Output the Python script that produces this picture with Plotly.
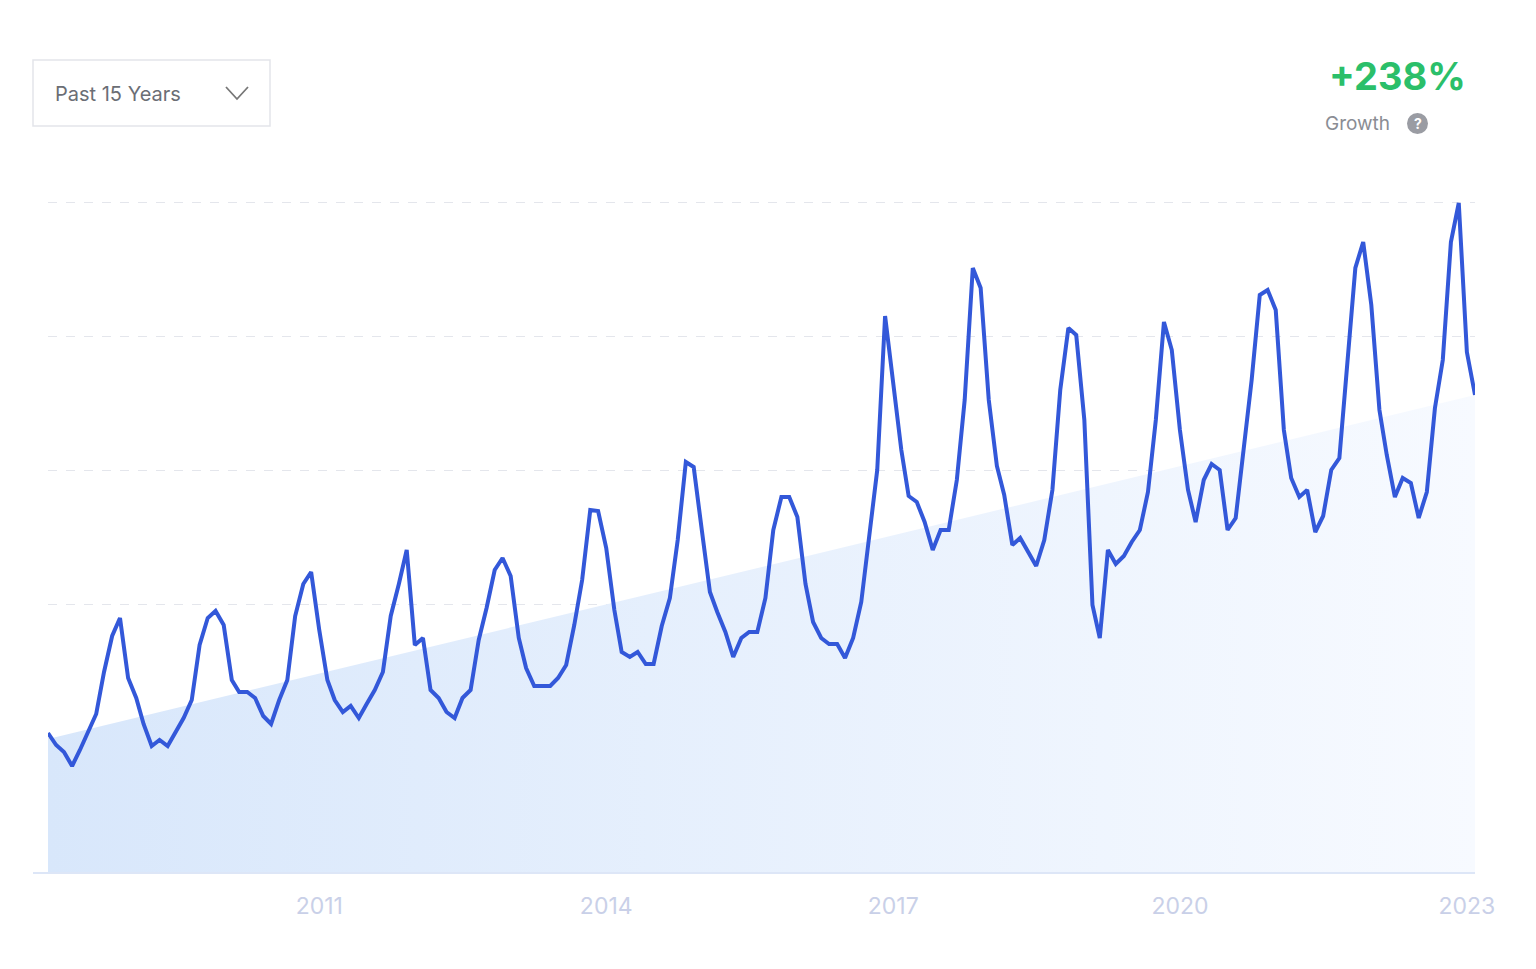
import plotly.graph_objects as go
import pandas as pd

start_month = "2008-03-01"
interest = [140,128,121,107,123,141,159,201,237,255,195,175,149,127,133,127,141,155,173,228,255,262,248,193,181,181,175,157,149,173,193,257,289,301,243,193,173,161,167,155,169,183,201,257,289,323,228,235,183,175,161,155,175,183,233,265,303,315,297,235,205,187,187,187,195,208,248,293,363,362,325,263,221,216,221,209,209,247,275,333,411,406,343,281,261,241,216,235,241,241,275,343,376,376,356,289,251,235,229,229,215,235,271,339,403,
557,493,423,377,371,351,323,343,343,393,473,605,585,473,407,378,328,335,321,307,333,383,483,545,538,453,268,235,323,309,317,331,343,381,453,551,523,443,383,351,393,409,403,343,355,423,493,578,583,563,443,395,376,383,341,357,403,415,513,605,631,568,463,418,376,395,390,355,381,465,513,631,670,521,478]
trend_start, trend_end = 134, 478
tick_years = ["2011", "2014", "2017", "2020", "2023"]
grid_vals = [134.2, 268.4, 402.6, 536.8, 671]

dates = pd.date_range(start_month, periods=len(interest), freq="MS")

fig = go.Figure()
fig.add_trace(go.Scatter(
    x=[dates[0], dates[-1]], y=[trend_start, trend_end], mode="lines",
    line=dict(width=0), fill="tozeroy",
    fillgradient=dict(type="horizontal",
                      colorscale=[[0, "rgba(216,231,251,1)"], [1, "rgba(247,250,255,1)"]]),
    hoverinfo="skip", showlegend=False))
fig.add_trace(go.Scatter(x=dates, y=interest, mode="lines",
                         line=dict(color="#3358d9", width=4), showlegend=False))

W, H = 1427, 683
def px(x): return (x - 48) / W
def py(y): return (873 - y) / H

fig.update_layout(
    width=1536, height=969, paper_bgcolor="white", plot_bgcolor="white",
    margin=dict(l=40, r=69, t=182, b=104),
    font=dict(family="Inter"),
    xaxis=dict(range=[dates[0], dates[-1]], showgrid=False, zeroline=False,
               tickvals=[pd.Timestamp(y + "-01-01") for y in tick_years], ticktext=tick_years,
               tickfont=dict(size=23, color="#c9d0e8"), ticks="outside", ticklen=12,
               tickcolor="rgba(0,0,0,0)", showline=False),
    yaxis=dict(range=[0, 683], tickvals=grid_vals, showticklabels=False,
               gridcolor="#e4e6ec", griddash="dash", gridwidth=1, zeroline=False),
    shapes=[
        dict(type="line", xref="paper", yref="paper", x0=px(33), x1=1.0, y0=0, y1=0,
             line=dict(color="#dde6f7", width=2)),
        dict(type="rect", xref="paper", yref="paper", x0=px(33), x1=px(270), y0=py(126), y1=py(60),
             line=dict(color="#e3e5ea", width=1.5), fillcolor="white"),
        dict(type="path", xref="paper", yref="paper",
             path=f"M {px(226)} {py(87)} L {px(237)} {py(99)} L {px(248)} {py(87)}",
             line=dict(color="#777", width=1.8)),
        dict(type="circle", xref="paper", yref="paper", x0=px(1407), x1=px(1428), y0=py(134), y1=py(113),
             fillcolor="#9a9ca3", line=dict(width=0)),
    ],
    annotations=[
        dict(text="Past 15 Years", xref="paper", yref="paper", x=px(53), y=py(94), xanchor="left",
             yanchor="middle", showarrow=False, font=dict(size=20, color="#6b6e75")),
        dict(text="<b>+238%</b>", xref="paper", yref="paper", x=px(1468), y=py(76), xanchor="right",
             yanchor="middle", showarrow=False, font=dict(size=38, color="#2bbf6a")),
        dict(text="Growth", xref="paper", yref="paper", x=px(1323), y=py(124), xanchor="left",
             yanchor="middle", showarrow=False, font=dict(size=19, color="#8a8d94")),
        dict(text="<b>?</b>", xref="paper", yref="paper", x=px(1417.5), y=py(123.5), xanchor="center",
             yanchor="middle", showarrow=False, font=dict(size=14, color="white")),
    ],
)
fig.write_html("out.html")
